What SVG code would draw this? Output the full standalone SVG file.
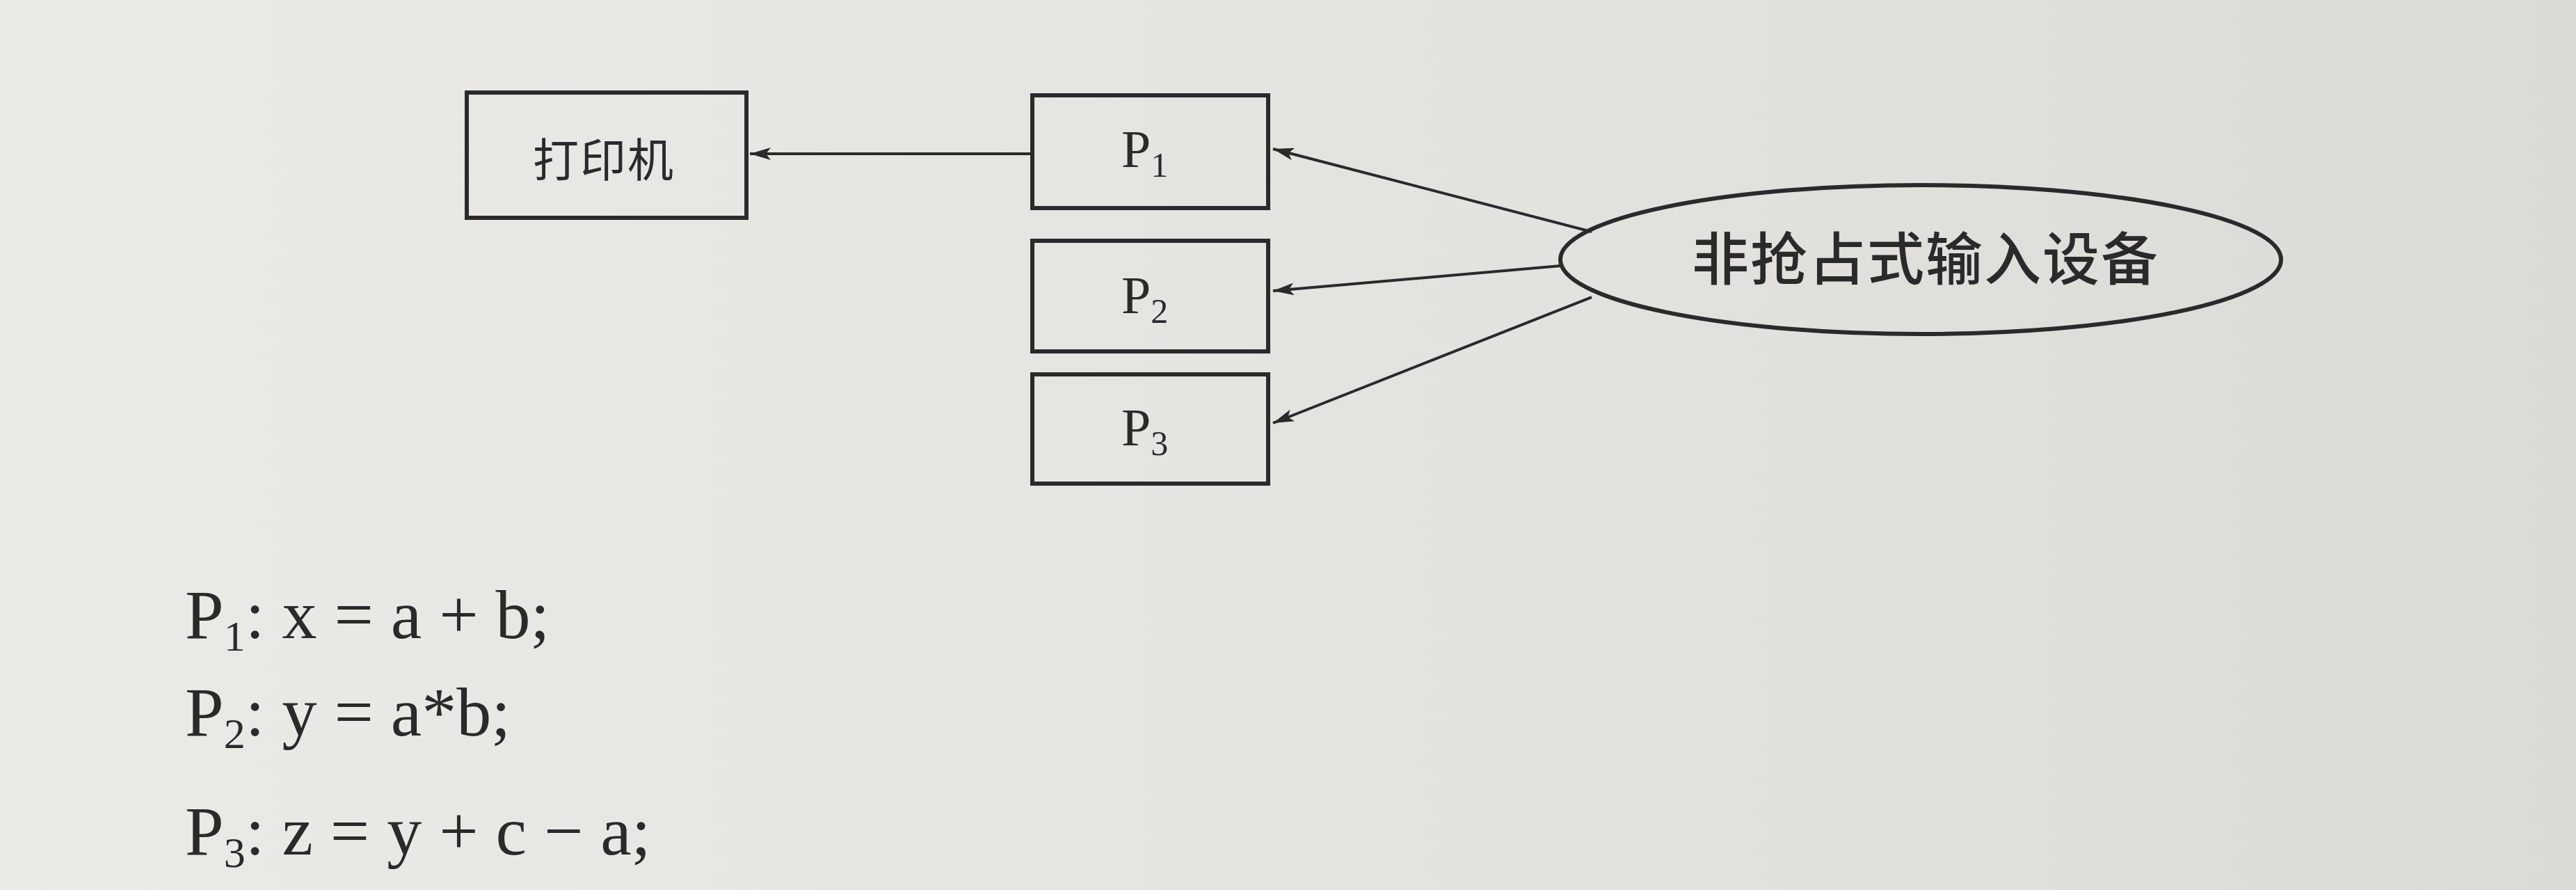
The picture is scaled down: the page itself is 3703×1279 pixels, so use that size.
<svg xmlns="http://www.w3.org/2000/svg" width="3703" height="1279" viewBox="0 0 3703 1279">
<defs>
<linearGradient id="bg" x1="0" y1="0" x2="1" y2="0">
<stop offset="0" stop-color="#eceae6"/><stop offset="0.6" stop-color="#e4e2de"/><stop offset="1" stop-color="#dcdad6"/>
</linearGradient>
<marker id="ah" viewBox="0 0 30 18" refX="30" refY="9" markerWidth="30" markerHeight="18" markerUnits="userSpaceOnUse" orient="auto">
<path d="M0,0 L30,9 L0,18 L7,9 Z" fill="#2a2a2a"/>
</marker>
<style>
.box{fill:none;stroke:#2a2a2a;stroke-width:6}
.cn{stroke:#2a2a2a;stroke-width:4;fill:none;marker-end:url(#ah)}
.cjk{font-family:"Noto Sans CJK SC","Liberation Sans",sans-serif;fill:#2a2a2a}
.ser{font-family:"Liberation Serif",serif;fill:#2a2a2a}
</style>
</defs>
<rect width="3703" height="1279" fill="url(#bg)"/>
<g id="printer"><rect class="box" x="671" y="133" width="402" height="180"/>
<text class="cjk" x="868" y="254" font-size="66" text-anchor="middle" letter-spacing="2">打印机</text></g>
<g id="p1"><rect class="box" x="1484" y="137" width="339" height="162"/>
<text class="ser" x="1612" y="240" font-size="76">P<tspan font-size="50" dy="14">1</tspan></text></g>
<g id="p2"><rect class="box" x="1484" y="346" width="339" height="159"/>
<text class="ser" x="1612" y="450" font-size="76">P<tspan font-size="50" dy="14">2</tspan></text></g>
<g id="p3"><rect class="box" x="1484" y="538" width="339" height="157"/>
<text class="ser" x="1612" y="640" font-size="76">P<tspan font-size="50" dy="14">3</tspan></text></g>
<g id="device"><ellipse class="box" cx="2761" cy="373" rx="518" ry="107"/>
<text class="cjk" x="2768" y="402" font-size="82" font-weight="500" text-anchor="middle" letter-spacing="2">非抢占式输入设备</text></g>
<g id="connectors">
<line class="cn" x1="1484" y1="221" x2="1078" y2="221"/>
<line class="cn" x1="2288" y1="333" x2="1830" y2="214"/>
<line class="cn" x1="2243" y1="382" x2="1830" y2="418"/>
<line class="cn" x1="2288" y1="427" x2="1830" y2="608"/>
</g>
<g id="code" class="ser" font-size="100">
<text x="266" y="917">P<tspan font-size="62" dy="18">1</tspan><tspan dy="-18">: x = a + b;</tspan></text>
<text x="266" y="1057">P<tspan font-size="62" dy="18">2</tspan><tspan dy="-18">: y = a*b;</tspan></text>
<text x="266" y="1228">P<tspan font-size="62" dy="18">3</tspan><tspan dy="-18">: z = y + c − a;</tspan></text>
</g>
</svg>
